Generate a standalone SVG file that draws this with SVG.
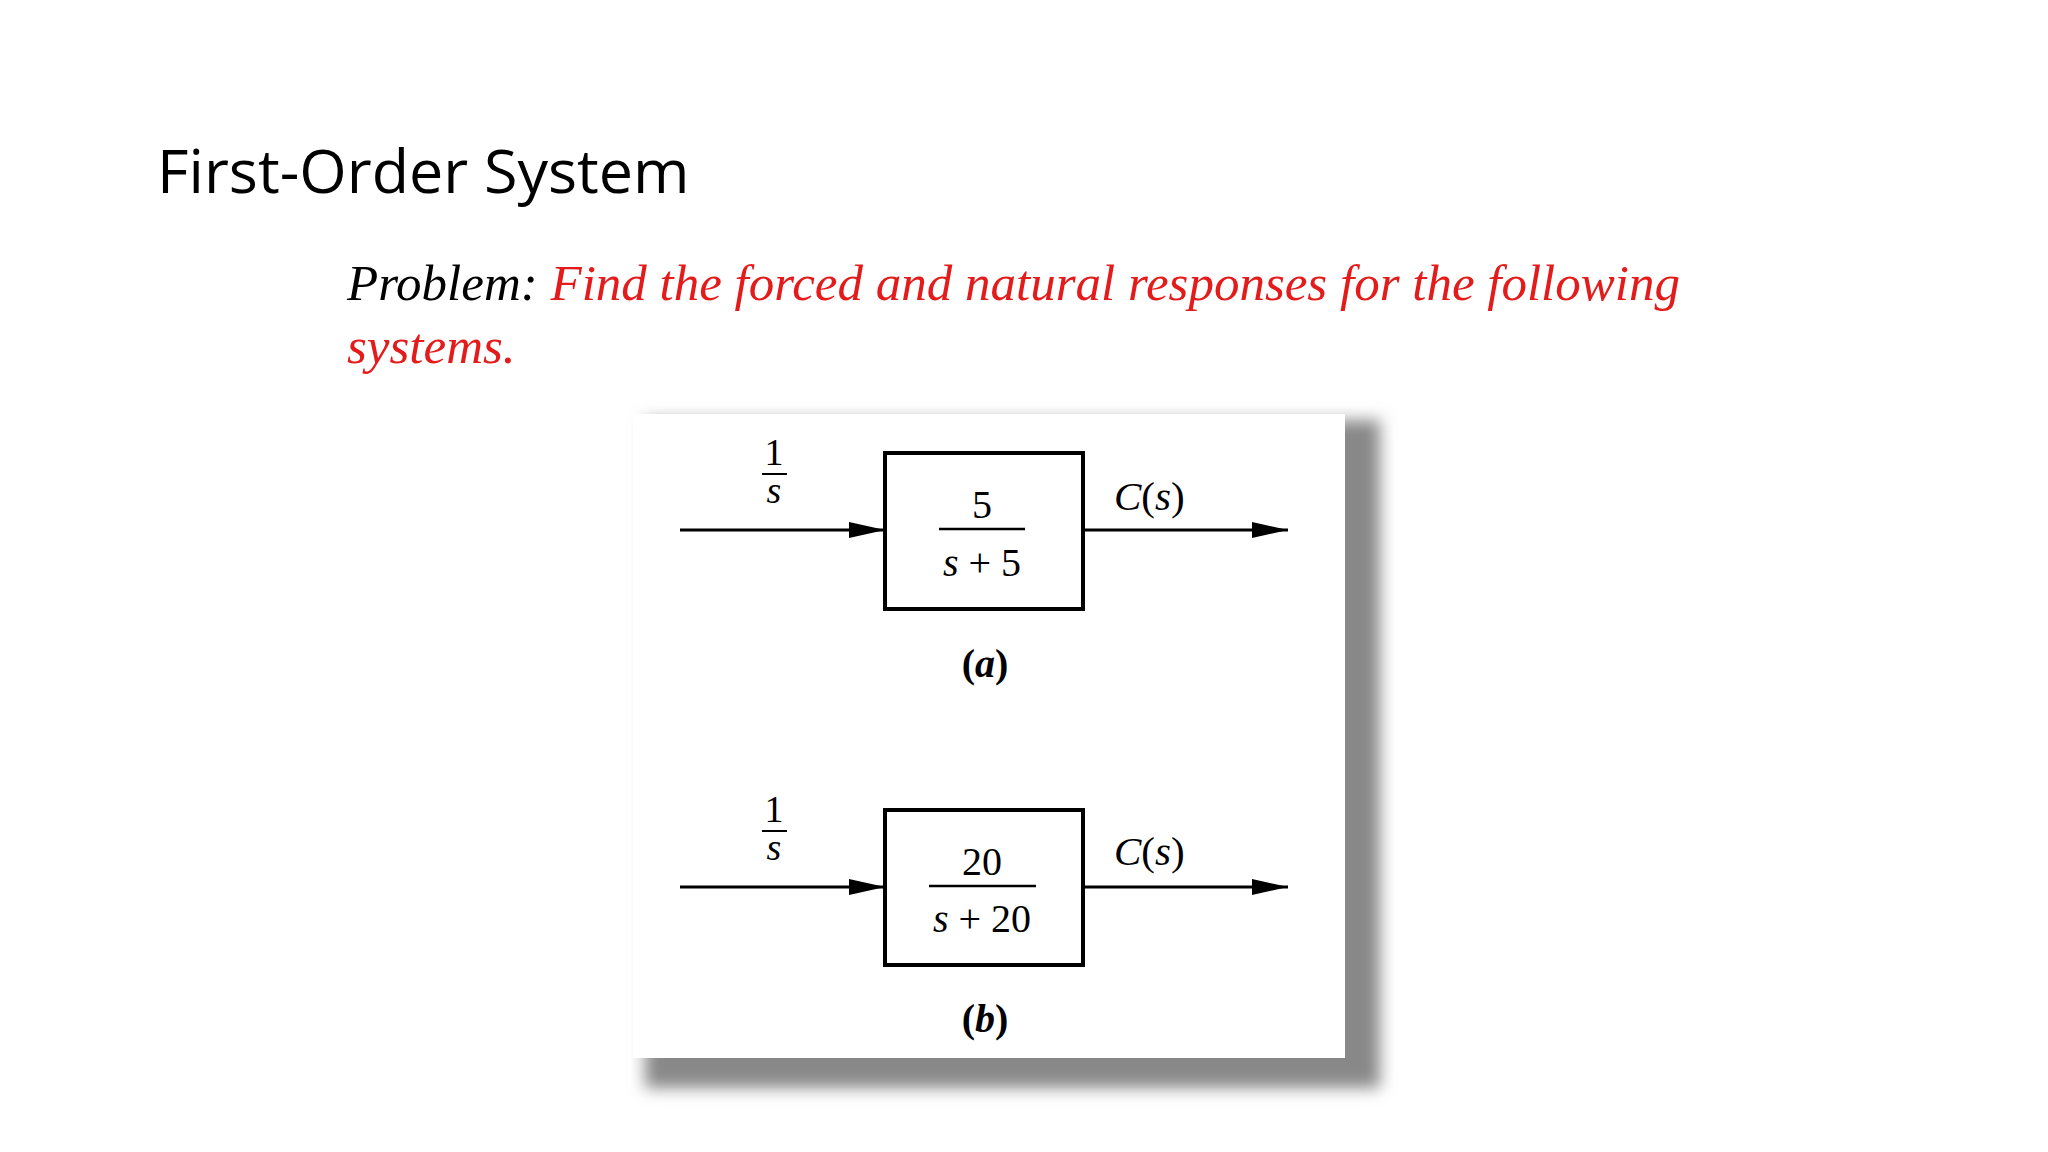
<svg xmlns="http://www.w3.org/2000/svg" width="2048" height="1152" viewBox="0 0 2048 1152">
<style>
.t{font-family:"Liberation Serif",serif;fill:#000}
.i{font-style:italic}
.ln{stroke:#000;stroke-width:3;fill:none}
.box{stroke:#000;stroke-width:4;fill:#fff}
</style>
<defs>
<marker id="ah2" viewBox="0 0 36 16" refX="36" refY="8" markerWidth="36" markerHeight="16" orient="auto" markerUnits="userSpaceOnUse"><path d="M0,0 L36,8 L0,16 Z" fill="#000"/></marker>
<filter id="sh" x="-10%" y="-10%" width="130%" height="130%"><feGaussianBlur stdDeviation="8"/></filter>
</defs>
<rect width="2048" height="1152" fill="#fff"/>
<text x="157" y="193" style="font-family:'Open Sans','Noto Sans',sans-serif;font-size:61px;fill:#000">First-Order System</text>
<text x="347" y="300" class="t i" font-size="51">Problem: <tspan fill="#e31b1b">Find the forced and natural responses for the following</tspan></text>
<text x="347" y="363" class="t i" font-size="51" style="fill:#e31b1b">systems.</text>
<rect x="645" y="420" width="735" height="668" fill="#888" filter="url(#sh)"/>
<rect x="633" y="414" width="712" height="644" fill="#fff"/>
<g id="connectors">
<line x1="680" y1="530" x2="885" y2="530" class="ln" marker-end="url(#ah2)"/>
<line x1="1083" y1="530" x2="1288" y2="530" class="ln" marker-end="url(#ah2)"/>
<line x1="680" y1="887" x2="885" y2="887" class="ln" marker-end="url(#ah2)"/>
<line x1="1083" y1="887" x2="1288" y2="887" class="ln" marker-end="url(#ah2)"/>
</g>
<g id="nodeA">
<rect x="885" y="453" width="198" height="156" class="box"/>
<text x="982" y="518" class="t" font-size="40" text-anchor="middle">5</text>
<line x1="939" y1="529" x2="1025" y2="529" stroke="#000" stroke-width="2.5"/>
<text x="982" y="576" class="t" font-size="40" text-anchor="middle"><tspan class="i">s</tspan> + 5</text>
</g>
<g id="nodeB">
<rect x="885" y="810" width="198" height="155" class="box"/>
<text x="982" y="875" class="t" font-size="40" text-anchor="middle">20</text>
<line x1="929" y1="886" x2="1036" y2="886" stroke="#000" stroke-width="2.5"/>
<text x="982" y="932" class="t" font-size="40" text-anchor="middle"><tspan class="i">s</tspan> + 20</text>
</g>
<g id="labels">
<text x="774" y="465" class="t" font-size="38" text-anchor="middle">1</text>
<line x1="762" y1="474" x2="787" y2="474" stroke="#000" stroke-width="2"/>
<text x="774" y="503" class="t i" font-size="38" text-anchor="middle">s</text>
<text x="1114" y="510" class="t" font-size="41"><tspan class="i">C</tspan>(<tspan class="i">s</tspan>)</text>
<text x="985" y="677" class="t" font-size="40" font-weight="bold" text-anchor="middle">(<tspan class="i">a</tspan>)</text>
<text x="774" y="822" class="t" font-size="38" text-anchor="middle">1</text>
<line x1="762" y1="831" x2="787" y2="831" stroke="#000" stroke-width="2"/>
<text x="774" y="860" class="t i" font-size="38" text-anchor="middle">s</text>
<text x="1114" y="865" class="t" font-size="41"><tspan class="i">C</tspan>(<tspan class="i">s</tspan>)</text>
<text x="985" y="1032" class="t" font-size="40" font-weight="bold" text-anchor="middle">(<tspan class="i">b</tspan>)</text>
</g>
</svg>
